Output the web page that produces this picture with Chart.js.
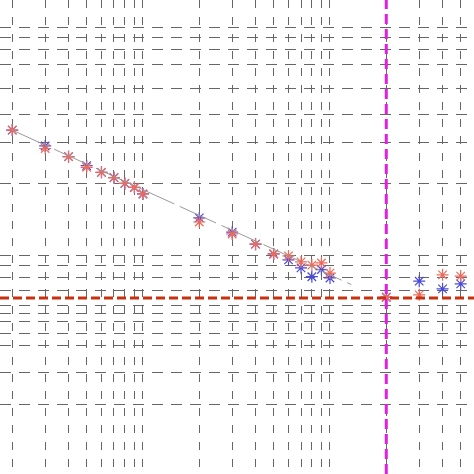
<!DOCTYPE html>
<html>
<head>
<script src="https://cdn.jsdelivr.net/npm/chart.js@4"></script>
<style>
  html, body { margin: 0; padding: 0; background: #fff; }
  #wrap { width: 474px; height: 474px; }
</style>
</head>
<body>
<div id="wrap"><canvas id="chart"></canvas></div>
<script>
// values (log-log axes)
const xs = [0.2, 0.3, 0.4, 0.5, 0.6, 0.7, 0.8, 0.9, 1, 2, 3, 4, 5, 6, 7, 8, 9, 10, 20, 30, 40, 50];
const redY = [7.9, 6.3, 5.7, 5.0, 4.7, 4.4, 4.1, 3.9, 3.6, 2.55, 2.2, 1.94, 1.72, 1.68, 1.56, 1.5, 1.54, 1.36, 1.01, 1.04, 1.33, 1.31];
const blueY = [7.9, 6.5, 5.7, 5.1, 4.7, 4.4, 4.1, 3.9, 3.6, 2.68, 2.25, 1.94, 1.72, 1.6, 1.45, 1.3, 1.42, 1.28, 1.01, 1.23, 1.12, 1.19];
const fitX = [0.2, 13];
const fitY = [7.9, 1.18];
const limitX = 20;
const limitY = 1.0;
// horizontal grid positions as seen in the picture
const yGrid = [28.1, 24.7, 21.3, 17.8, 13.2, 9.6, 6.8, 4.1, 1.68, 1.49, 1.29, 1.10, 0.91, 0.83, 0.75, 0.65, 0.56, 0.40, 0.27];

const xMin = 0.172, xMax = 58.9;
const yMin = 0.1146, yMax = 39.2;

function logTicks(min, max) {
  const t = [];
  for (let e = -2; e <= 3; e++) {
    for (let m = 1; m <= 9; m++) {
      const v = m * Math.pow(10, e);
      if (v >= min && v <= max) t.push({ value: v });
    }
  }
  return t;
}

const grid = {
  color: "#666",
  lineWidth: 1,
  drawTicks: false,
  tickLength: 0,
};

new Chart(document.getElementById("chart"), {
  type: "scatter",
  data: {
    datasets: [
      {
        label: "fit",
        type: "line",
        data: fitX.map((x, i) => ({ x: x, y: fitY[i] })),
        borderColor: "#999",
        borderWidth: 1,
        borderDash: [40, 6],
        pointRadius: 0,
      },
      {
        label: "limitY",
        type: "line",
        data: [{ x: xMin, y: limitY }, { x: xMax, y: limitY }],
        borderColor: "#c8300e",
        borderWidth: 3,
        borderDash: [9, 4],
        pointRadius: 0,
      },
      {
        label: "limitX",
        type: "line",
        data: [{ x: limitX, y: yMin }, { x: limitX, y: yMax }],
        borderColor: "#e020e0",
        borderWidth: 3,
        borderDash: [10, 5],
        pointRadius: 0,
      },
      {
        label: "red",
        data: xs.map((x, i) => ({ x: x, y: redY[i] })),
        pointStyle: "star",
        pointRadius: 6,
        borderColor: "#f06a5a",
        borderWidth: 1.2,
      },
      {
        label: "blue",
        data: xs.map((x, i) => ({ x: x, y: blueY[i] })),
        pointStyle: "star",
        pointRadius: 6,
        borderColor: "#4a4ad8",
        borderWidth: 1.2,
      },
    ],
  },
  options: {
    responsive: true,
    maintainAspectRatio: false,
    animation: false,
    layout: { padding: 0, autoPadding: false },
    plugins: { legend: { display: false }, tooltip: { enabled: false } },
    scales: {
      x: {
        type: "logarithmic",
        min: xMin,
        max: xMax,
        afterBuildTicks: (axis) => { axis.ticks = logTicks(xMin, xMax); },
        ticks: { display: false, padding: 0 },
        border: { display: false, dash: [8, 9] },
        grid: grid,
      },
      y: {
        type: "logarithmic",
        min: yMin,
        max: yMax,
        afterBuildTicks: (axis) => { axis.ticks = yGrid.map((v) => ({ value: v })); },
        ticks: { display: false, padding: 0 },
        border: { display: false, dash: [11, 8] },
        grid: grid,
      },
    },
  },
});
</script>
</body>
</html>
